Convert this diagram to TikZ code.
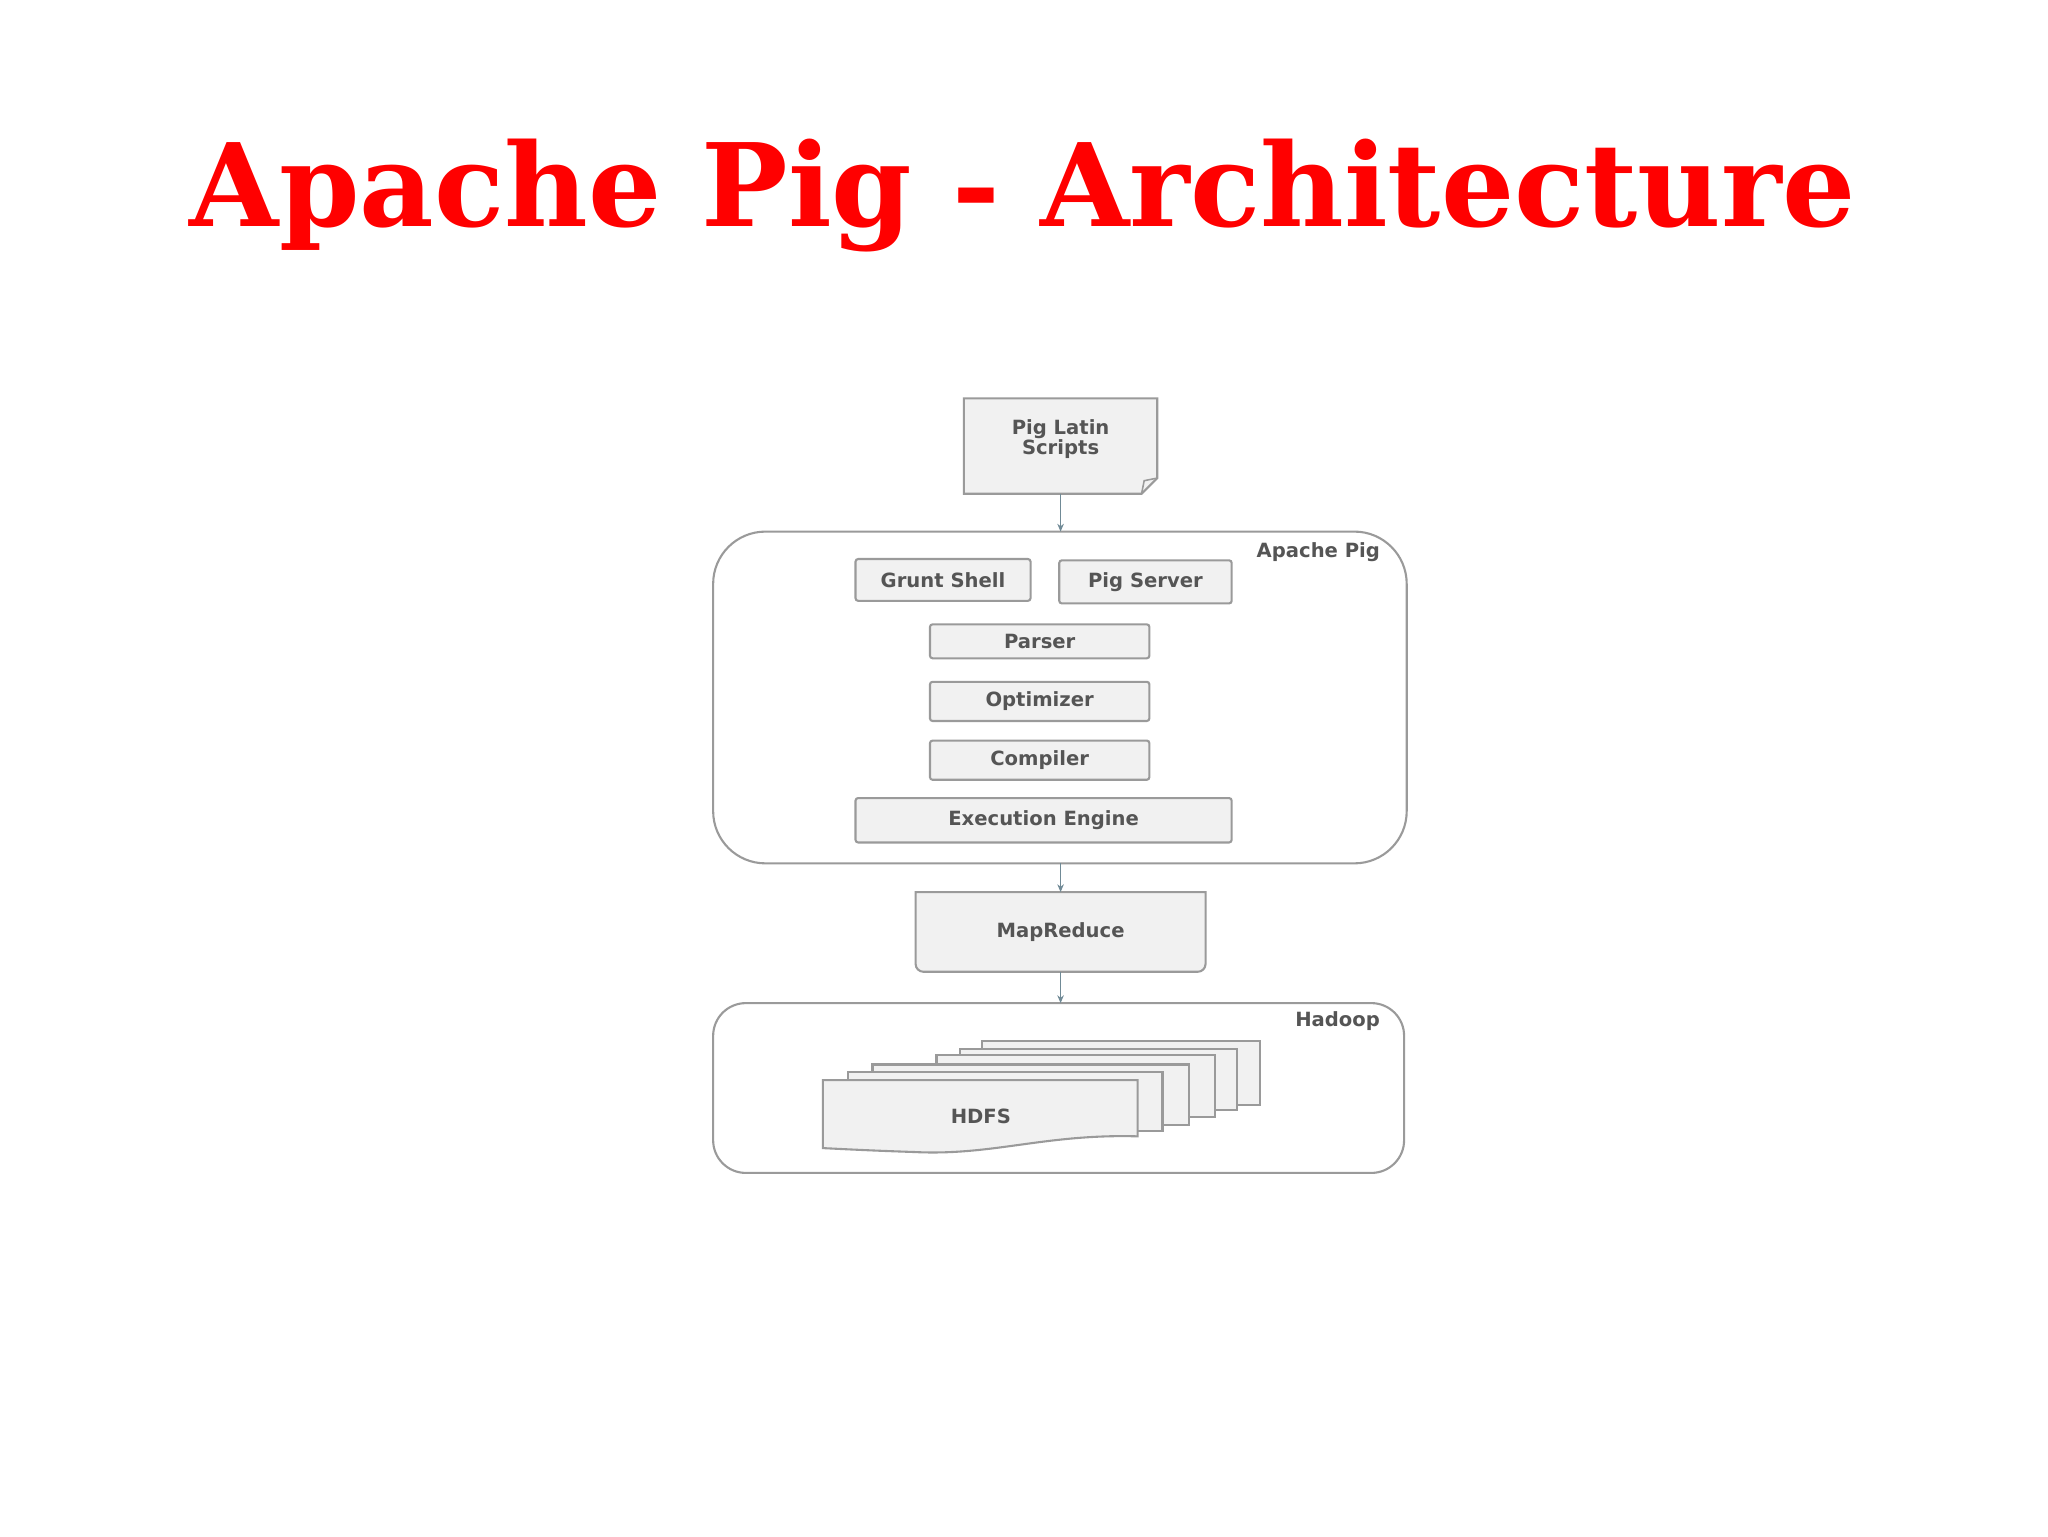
\documentclass[tikz,border=0pt]{standalone}
\usepackage{fontspec}
\setmainfont{DejaVu Sans}
\newfontfamily\titlefont{DejaVu Serif}
\usetikzlibrary{arrows.meta}
\definecolor{boxfill}{HTML}{F1F1F1}
\definecolor{boxline}{HTML}{9A9A9A}
\definecolor{txt}{HTML}{555555}
\definecolor{arr}{HTML}{6A8FA0}
\tikzset{
 x=1pt,y=-1pt,
 box/.style={draw=boxline,fill=boxfill,line width=1.6pt,rounded corners=2pt},
 lbl/.style={font=\bfseries\fontsize{15}{18}\selectfont,text=txt,align=center},
 cont/.style={draw=boxline,line width=1.6pt},
 conn/.style={draw=arr!70!gray,line width=0.8pt,-{Stealth[length=6pt,width=5pt]}}
}
\begin{document}
\begin{tikzpicture}
\useasboundingbox[fill=white] (0,0) rectangle (1568,1176);
\node[font=\titlefont\bfseries,text=red] (title) at (783,150) {\resizebox{1275pt}{!}{Apache Pig - Architecture}};
% Pig Latin scripts (folded corner)
\draw[box,rounded corners=0] (738,305) -- (886,305) -- (886,366) -- (874,378) -- (738,378) -- cycle;
\draw[boxline,line width=1.2pt] (874,378) -- (876,368) -- (886,366);
\node[lbl] (pls) at (812,336) {Pig Latin\\[-3pt]Scripts};
\coordinate (plsb) at (812,378);
% Apache Pig container
\draw[cont,rounded corners=40pt] (546,407) rectangle (1077,661);
\coordinate (apt) at (812,407);
\coordinate (apb) at (812,661);
\node[lbl,anchor=east] (aplbl) at (1060,423) {Apache Pig};
\node[box,lbl,minimum width=134pt,minimum height=32pt] (grunt) at (722,444) {Grunt Shell};
\node[box,lbl,minimum width=132pt,minimum height=33pt] (server) at (877,445.5) {Pig Server};
\node[box,lbl,minimum width=168pt,minimum height=26pt] (parser) at (796,491) {Parser};
\node[box,lbl,minimum width=168pt,minimum height=30pt] (opt) at (796,537) {Optimizer};
\node[box,lbl,minimum width=168pt,minimum height=30pt] (comp) at (796,582) {Compiler};
\node[box,lbl,minimum width=288pt,minimum height=34pt] (exec) at (799,628) {Execution Engine};
% MapReduce
\draw[box,rounded corners=0] (701,683) -- (923,683) -- (923,736) [rounded corners=6pt]-- (923,744) -- (701,744) [rounded corners=0] -- cycle;
\node[lbl] (mr) at (812,714) {MapReduce};
\coordinate (mrt) at (812,683);
\coordinate (mrb) at (812,744);
% Hadoop container
\draw[cont,rounded corners=25pt] (546,768) rectangle (1075,898);
\coordinate (hdt) at (812,768);
\node[lbl,anchor=east] (hdlbl) at (1060,782) {Hadoop};
% HDFS stack
\foreach \l/\t/\r/\b in {752/797/965/846, 735/803/947/850, 717/808/930/855, 668/815/910/861, 649/821/890/866}{
  \draw[box,rounded corners=0] (\l,\t) rectangle (\r,\b);
}
\draw[box,rounded corners=0] (630,827) -- (871,827) -- (871,870) .. controls (800,868) and (760,885) .. (700,882) .. controls (670,881) and (650,880) .. (630,879) -- cycle;
\node[lbl] (hdfs) at (751,855) {HDFS};
% connectors
\draw[conn] (plsb) -- (apt);
\draw[conn] (apb) -- (mrt);
\draw[conn] (mrb) -- (hdt);
\end{tikzpicture}
\end{document}
